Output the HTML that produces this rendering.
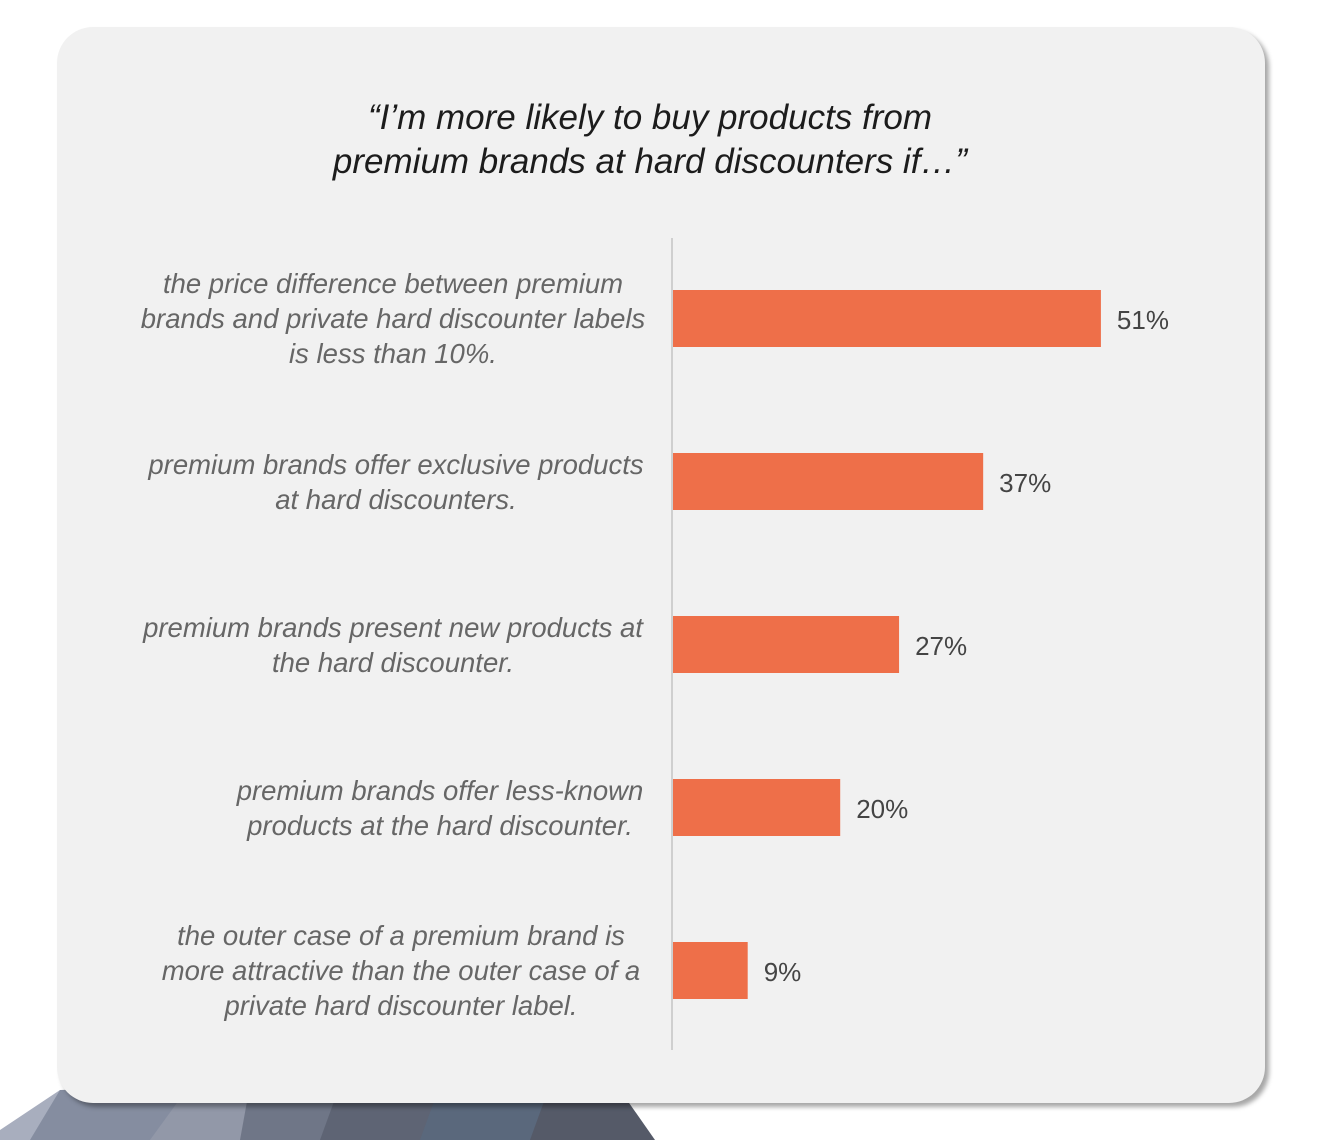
<!DOCTYPE html>
<html><head><meta charset="utf-8"><style>
body{margin:0;width:1328px;height:1140px;background:#fff;position:relative;overflow:hidden;font-family:"Liberation Sans",sans-serif}
.card{position:absolute;left:57px;top:27px;width:1208px;height:1076px;background:#f1f1f1;border-radius:36px;box-shadow:4px 4px 5px rgba(0,0,0,0.35)}
.title{position:absolute;left:0;width:1300px;top:96px;text-align:center;font-style:italic;font-size:35px;line-height:44px;color:#1c1c1c}
.lab{position:absolute;width:600px;text-align:center;font-style:italic;font-size:27.5px;line-height:35px;color:#666;white-space:nowrap}
.val{position:absolute;font-size:26px;color:#444}
</style></head><body>
<svg style="position:absolute;left:0;top:1060px" width="700" height="80">
<polygon points="0,80 0,70 60,30 200,30 200,80" fill="#a8aebe"/>
<polygon points="30,80 60,30 220,25 250,80" fill="#858da0"/>
<polygon points="150,80 190,25 310,25 330,80" fill="#9298a8"/>
<polygon points="240,80 250,25 400,25 380,80" fill="#6f7687"/>
<polygon points="320,80 340,25 500,25 470,80" fill="#5e6474"/>
<polygon points="420,80 440,25 580,25 560,80" fill="#5a687c"/>
<polygon points="530,80 550,25 620,30 655,80" fill="#555a68"/>
</svg>
<div class="card"></div>
<div class="title">“I’m more likely to buy products from<br>premium brands at hard discounters if…”</div>
<svg id="chart" style="position:absolute;left:0;top:0" width="1328" height="1140"></svg>
<div id="labels"></div>
<script>
const categories=["the price difference between premium<br>brands and private hard discounter labels<br>is less than 10%.","premium brands offer exclusive products<br>at hard discounters.","premium brands present new products at<br>the hard discounter.","premium brands offer less-known<br>products at the hard discounter.","the outer case of a premium brand is<br>more attractive than the outer case of a<br>private hard discounter label."];
const values=[51,37,27,20,9];
const valueLabels=["51%","37%","27%","20%","9%"];
const labelCenters=[393,396,393,440,401];
const x0=672,pxPer=8.41,yTop=290,step=163,bh=57;
const xs=v=>x0+v*pxPer;
const ys=i=>yTop+i*step;
const svg=document.getElementById('chart');
const NS="http://www.w3.org/2000/svg";
const ax=document.createElementNS(NS,'line');
ax.setAttribute('x1',x0);ax.setAttribute('x2',x0);ax.setAttribute('y1',238);ax.setAttribute('y2',1050);
ax.setAttribute('stroke','#cfcfcf');ax.setAttribute('stroke-width','2');


svg.appendChild(ax);
const L=document.getElementById('labels');
values.forEach((v,i)=>{
 const r=document.createElementNS(NS,'rect');
 r.setAttribute('x',x0+1);r.setAttribute('y',ys(i));r.setAttribute('width',xs(v)-x0-1);r.setAttribute('height',bh);r.setAttribute('fill','#ee6f49');
 
 
 svg.appendChild(r);
 const t=document.createElement('div');t.className='val';
 t.style.left=(xs(v)+16)+'px';t.style.top=(ys(i)+15)+'px';t.textContent=valueLabels[i];
 
 
 L.appendChild(t);
 const c=document.createElement('div');c.className='lab';c.innerHTML=categories[i];
 const n=categories[i].split('<br>').length;
 c.style.left=(labelCenters[i]-300)+'px';
 c.style.top=(ys(i)+bh/2-n*35/2)+'px';
 
 
 L.appendChild(c);
});
</script>
</body></html>
